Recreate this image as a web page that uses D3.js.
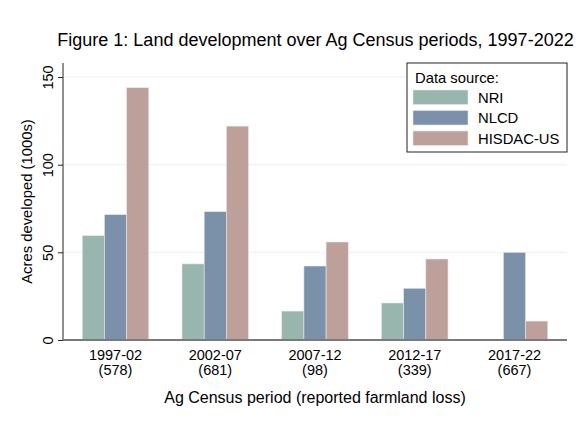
<!DOCTYPE html>
<html>
<head>
<meta charset="utf-8">
<script src="https://cdn.jsdelivr.net/npm/d3@7"></script>
<style>
  body { margin: 0; background: #fff; }
  svg { display: block; font-family: "Liberation Sans", Arial, sans-serif; }
</style>
</head>
<body>
<div id="chart"></div>
<script>
const periods = ['1997-02', '2002-07', '2007-12', '2012-17', '2017-22'];
const farmlandLoss = ['(578)', '(681)', '(98)', '(339)', '(667)'];
const sources = ['NRI', 'NLCD', 'HISDAC-US'];
const nri = [59.5, 43.4, 16.5, 21.1, null];
const nlcd = [71.5, 73.2, 42.2, 29.5, 50.0];
const hisdac = [143.9, 122, 55.9, 46.2, 10.8];
const yTicks = [0, 50, 100, 150];
const colors = ['#98b5ae', '#7b91a9', '#bda099'];

const width = 583, height = 424;
const margin = {top: 63, right: 16, bottom: 84, left: 63};

const svg = d3.select('#chart').append('svg')
    .attr('width', width)
    .attr('height', height);

const x = d3.scaleBand()
    .domain(periods)
    .range([margin.left, width - margin.right])
    .paddingInner(0.333)
    .paddingOuter(0.193);
const xs = d3.scaleBand()
    .domain(sources)
    .range([0, x.bandwidth()]);
const y = d3.scaleLinear()
    .domain([0, 158])
    .range([height - margin.bottom, margin.top]);

// grid
svg.append('g')
    .selectAll('line')
    .data(yTicks.filter(d => d > 0))
    .join('line')
    .attr('x1', margin.left)
    .attr('x2', width - margin.right)
    .attr('y1', d => y(d))
    .attr('y2', d => y(d))
    .attr('stroke', '#eaf1f3')
    .attr('stroke-width', 1);

// bars
const series = sources.map((s, i) => ({key: s, values: [nri, nlcd, hisdac][i], color: colors[i]}));
const rows = [];
series.forEach(s => s.values.forEach((v, j) => {
    if (v != null) rows.push({source: s.key, period: periods[j], value: v, color: s.color});
}));
svg.append('g')
    .selectAll('rect')
    .data(rows)
    .join('rect')
    .attr('x', d => x(d.period) + xs(d.source))
    .attr('y', d => y(d.value))
    .attr('width', xs.bandwidth())
    .attr('height', d => y(0) - y(d.value))
    .attr('fill', d => d.color)
    .attr('stroke', '#e8e8e8')
    .attr('stroke-width', 0.6);

// y axis
const yAxis = svg.append('g')
    .attr('transform', `translate(${margin.left},0)`)
    .call(d3.axisLeft(y).tickValues(yTicks).tickSize(5).tickSizeOuter(0));
yAxis.select('.domain').attr('stroke', '#222').attr('d', `M0,${y(0)}V${margin.top}`);
yAxis.selectAll('.tick line').attr('stroke', '#222');
yAxis.selectAll('.tick text')
    .attr('x', null).attr('dy', null)
    .attr('transform', 'translate(-10,0) rotate(-90)')
    .attr('text-anchor', 'middle')
    .attr('font-size', 14.5)
    .attr('font-family', null)
    .attr('fill', '#000');

// baseline
svg.append('line')
    .attr('x1', margin.left)
    .attr('x2', width - margin.right)
    .attr('y1', y(0))
    .attr('y2', y(0))
    .attr('stroke', '#7a7a7a')
    .attr('stroke-width', 2);

// x labels
const xl = svg.append('g');
periods.forEach((p, i) => {
    const cx = x(p) + x.bandwidth() / 2;
    xl.append('text').attr('x', cx).attr('y', 360)
        .attr('text-anchor', 'middle').attr('font-size', 14.5).text(p);
    xl.append('text').attr('x', cx).attr('y', 375)
        .attr('text-anchor', 'middle').attr('font-size', 14.5).text(farmlandLoss[i]);
});

svg.append('text')
    .attr('x', (margin.left + width - margin.right) / 2)
    .attr('y', 403)
    .attr('text-anchor', 'middle')
    .attr('font-size', 16)
    .text('Ag Census period (reported farmland loss)');

svg.append('text')
    .attr('transform', `translate(32,${(y(0) + margin.top) / 2}) rotate(-90)`)
    .attr('text-anchor', 'middle')
    .attr('font-size', 14.8)
    .text('Acres developed (1000s)');

svg.append('text')
    .attr('x', 315.5)
    .attr('y', 46)
    .attr('text-anchor', 'middle')
    .attr('font-size', 18)
    .text('Figure 1: Land development over Ag Census periods, 1997-2022');

// legend
const lg = svg.append('g').attr('transform', 'translate(407,63)');
lg.append('rect')
    .attr('width', 160).attr('height', 89)
    .attr('fill', '#fff').attr('stroke', '#222').attr('stroke-width', 1);
lg.append('text').attr('x', 8).attr('y', 20).attr('font-size', 14.8).text('Data source:');
sources.forEach((s, i) => {
    lg.append('rect')
        .attr('x', 6).attr('y', 27 + i * 20.5)
        .attr('width', 55).attr('height', 14.5)
        .attr('fill', colors[i]).attr('stroke', '#e8e8e8').attr('stroke-width', 0.6);
    lg.append('text')
        .attr('x', 71).attr('y', 39.5 + i * 20.5)
        .attr('font-size', 14.8).text(s);
});
</script>
</body>
</html>
